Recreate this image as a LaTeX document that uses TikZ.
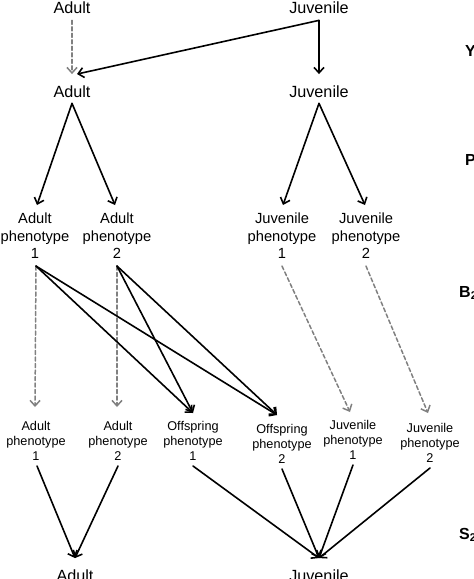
\documentclass[tikz,border=0pt]{standalone}
\usepackage{fontspec}
\setmainfont{Liberation Sans}
\usetikzlibrary{arrows.meta}

\begin{document}
\begin{tikzpicture}[x=1pt,y=-1pt,>={Straight Barb[length=5.5pt,width=10pt]},line cap=round,
  toplbl/.style={font=\fontsize{16.2}{18}\selectfont,inner sep=0pt,anchor=base},
  midlbl/.style={font=\fontsize{14.7}{17.5}\selectfont,align=center,inner sep=0pt,anchor=north},
  lowlbl/.style={font=\fontsize{12.7}{15.2}\selectfont,align=center,inner sep=0pt,anchor=north},
  sidelbl/.style={font=\fontsize{16}{18}\selectfont\bfseries,inner sep=0pt,anchor=west},
  solidarr/.style={->,black,line width=1.6pt},
  grayarr/.style={->,black!50,line width=1.5pt,dash pattern=on 4pt off 2.5pt}]
\useasboundingbox (0,0) rectangle (474,579);
\clip (0,0) rectangle (474,579);
% generations
\node[toplbl] (a1) at (72,13) {Adult};
\node[toplbl] (j1) at (319,13) {Juvenile};
\node[toplbl] (a2) at (72,97) {Adult};
\node[toplbl] (j2) at (319,97) {Juvenile};
\node[midlbl] (ap1) at (35,213) {Adult\\phenotype\\1};
\node[midlbl] (ap2) at (117,213) {Adult\\phenotype\\2};
\node[midlbl] (jp1) at (282,213) {Juvenile\\phenotype\\1};
\node[midlbl] (jp2) at (366,213) {Juvenile\\phenotype\\2};
\node[lowlbl] (bap1) at (36,421) {Adult\\phenotype\\1};
\node[lowlbl] (bap2) at (118,421) {Adult\\phenotype\\2};
\node[lowlbl] (bop1) at (193,421) {Offspring\\phenotype\\1};
\node[lowlbl] (bop2) at (282,424) {Offspring\\phenotype\\2};
\node[lowlbl] (bjp1) at (353,420) {Juvenile\\phenotype\\1};
\node[lowlbl] (bjp2) at (430,423) {Juvenile\\phenotype\\2};
\node[toplbl] (a5) at (75,581) {Adult};
\node[toplbl] (j5) at (319,581) {Juvenile};
% side letters
\node[sidelbl] (yLab) at (465,51) {Y};
\node[sidelbl] (pLab) at (465,160) {P};
\node[sidelbl] (bLab) at (459,293) {B\textsubscript{2}};
\node[sidelbl] (sLab) at (459,535) {S\textsubscript{2}};
% top step
\draw[grayarr] ([yshift=-7pt]a1.south) -- ([yshift=11pt]a2.north);
\draw[solidarr] ([yshift=-7pt]j1.south) -- ([yshift=11pt]j2.north);
\draw[solidarr] ([yshift=-7pt]j1.south) -- ([xshift=5pt,yshift=11pt]a2.north);
% phenotypes
\draw[solidarr] ([yshift=-6pt]a2.south) -- ([xshift=2pt,yshift=8pt]ap1.north);
\draw[solidarr] ([yshift=-6pt]a2.south) -- ([xshift=-2pt,yshift=8pt]ap2.north);
\draw[solidarr] ([yshift=-6pt]j2.south) -- ([xshift=1pt,yshift=8pt]jp1.north);
\draw[solidarr] ([yshift=-6pt]j2.south) -- ([xshift=-1pt,yshift=8pt]jp2.north);
% transmission
\draw[grayarr] ([xshift=1pt,yshift=-7pt]ap1.south) -- ([xshift=-1pt,yshift=14pt]bap1.north);
\draw[grayarr] ([yshift=-7pt]ap2.south) -- ([xshift=-1pt,yshift=14pt]bap2.north);
\draw[solidarr] ([xshift=1pt,yshift=-7pt]ap1.south) -- ([yshift=8pt]bop1.north);
\draw[solidarr] ([xshift=1pt,yshift=-7pt]ap1.south) -- ([xshift=-5pt,yshift=9pt]bop2.north);
\draw[solidarr] ([yshift=-7pt]ap2.south) -- ([yshift=8pt]bop1.north);
\draw[solidarr] ([yshift=-7pt]ap2.south) -- ([xshift=-5pt,yshift=9pt]bop2.north);
\draw[grayarr] ([yshift=-7pt]jp1.south) -- ([xshift=-3pt,yshift=8pt]bjp1.north);
\draw[grayarr] ([yshift=-7pt]jp2.south) -- ([xshift=-2pt,yshift=10pt]bjp2.north);
% selection
\draw[solidarr] ([xshift=1pt,yshift=-5pt]bap1.south) -- ([yshift=11pt]a5.north);
\draw[solidarr] ([yshift=-5pt]bap2.south) -- ([yshift=11pt]a5.north);
\draw[solidarr] ([yshift=-5pt]bop1.south) -- ([yshift=11pt]j5.north);
\draw[solidarr] ([yshift=-5pt]bop2.south) -- ([yshift=11pt]j5.north);
\draw[solidarr] ([yshift=-5pt]bjp1.south) -- ([yshift=11pt]j5.north);
\draw[solidarr] ([yshift=-5pt]bjp2.south) -- ([yshift=11pt]j5.north);
\end{tikzpicture}
\end{document}
